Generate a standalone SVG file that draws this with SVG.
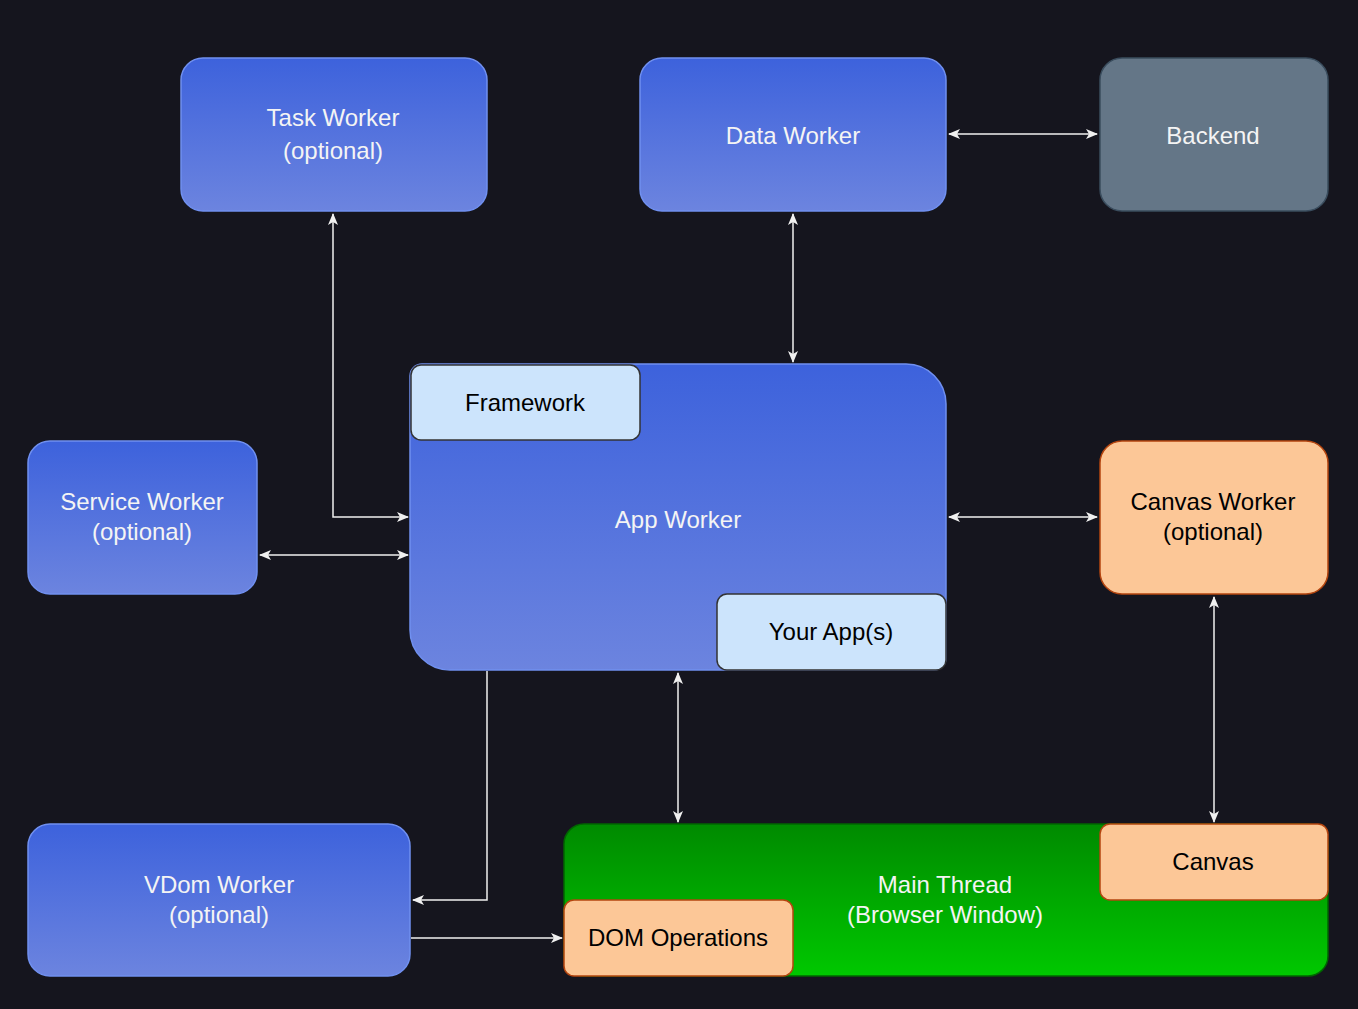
<svg xmlns="http://www.w3.org/2000/svg" width="1358" height="1009" viewBox="0 0 1358 1009">
<defs>
<linearGradient id="bl" x1="0" y1="0" x2="0" y2="1"><stop offset="0" stop-color="#3d62dc"/><stop offset="1" stop-color="#6c84df"/></linearGradient>
<linearGradient id="gr" x1="0" y1="0" x2="0" y2="1"><stop offset="0" stop-color="#008a00"/><stop offset="1" stop-color="#00c800"/></linearGradient>
<marker id="ar" viewBox="0 0 12 10" refX="11" refY="5" markerWidth="12" markerHeight="10" markerUnits="userSpaceOnUse" orient="auto-start-reverse"><path d="M0,0 L12,5 L0,10 L3,5 Z" fill="#f0f0f0"/></marker>
<style>
.b{fill:url(#bl);stroke:#7090f0;stroke-width:1.5}
.o{fill:#fcc797;stroke:#b4450f;stroke-width:1.5}
.l{fill:#cce4fc;stroke:#333;stroke-width:1.5}
.w{font-family:"Liberation Sans",Arial,sans-serif;font-size:24px;fill:#f4f4f4;text-anchor:middle}
.k{font-family:"Liberation Sans",Arial,sans-serif;font-size:24px;fill:#000;text-anchor:middle}
.c{fill:none;stroke:#f0f0f0;stroke-width:1.5}
</style>
</defs>
<rect width="1358" height="1009" fill="#15151e"/>
<g id="connectors">
<path class="c" d="M333,214 V517 H408" marker-start="url(#ar)" marker-end="url(#ar)"/>
<path class="c" d="M793,214 V362" marker-start="url(#ar)" marker-end="url(#ar)"/>
<path class="c" d="M949,134 H1097" marker-start="url(#ar)" marker-end="url(#ar)"/>
<path class="c" d="M260,555 H408" marker-start="url(#ar)" marker-end="url(#ar)"/>
<path class="c" d="M949,517 H1097" marker-start="url(#ar)" marker-end="url(#ar)"/>
<path class="c" d="M1214,597 V822" marker-start="url(#ar)" marker-end="url(#ar)"/>
<path class="c" d="M678,673 V822" marker-start="url(#ar)" marker-end="url(#ar)"/>
<path class="c" d="M487,671 V900 H413" marker-end="url(#ar)"/>
<path class="c" d="M411,938 H562" marker-end="url(#ar)"/>
</g>
<g id="task"><rect class="b" x="181" y="58" width="306" height="153" rx="22"/><text class="w" x="333" y="126">Task Worker</text><text class="w" x="333" y="159">(optional)</text></g>
<g id="data"><rect class="b" x="640" y="58" width="306" height="153" rx="22"/><text class="w" x="793" y="144" font-size="28">Data Worker</text></g>
<g id="backend"><rect x="1100" y="58" width="228" height="153" rx="22" fill="#647687" stroke="#3a4d5e" stroke-width="1.5"/><text class="w" x="1213" y="144" font-size="26">Backend</text></g>
<g id="service"><rect class="b" x="28" y="441" width="229" height="153" rx="22"/><text class="w" x="142" y="510">Service Worker</text><text class="w" x="142" y="540">(optional)</text></g>
<g id="app"><path class="b" d="M422,364 H906 A40,40 0 0 1 946,404 V658 A12,12 0 0 1 934,670 H450 A40,40 0 0 1 410,630 V376 A12,12 0 0 1 422,364 Z"/><text class="w" x="678" y="528" font-size="30">App Worker</text>
<g id="framework"><rect class="l" x="411" y="365" width="229" height="75" rx="10"/><text class="k" x="525" y="411">Framework</text></g>
<g id="yourapps"><rect class="l" x="717" y="594" width="229" height="76" rx="10"/><text class="k" x="831" y="640">Your App(s)</text></g></g>
<g id="canvasworker"><rect class="o" x="1100" y="441" width="228" height="153" rx="22"/><text class="k" x="1213" y="510">Canvas Worker</text><text class="k" x="1213" y="540">(optional)</text></g>
<g id="vdom"><rect class="b" x="28" y="824" width="382" height="152" rx="22"/><text class="w" x="219" y="893">VDom Worker</text><text class="w" x="219" y="923">(optional)</text></g>
<g id="main"><rect x="564" y="824" width="764" height="152" rx="20" fill="url(#gr)" stroke="#006600" stroke-width="1.5"/><text class="w" x="945" y="893">Main Thread</text><text class="w" x="945" y="923">(Browser Window)</text>
<g id="dom"><rect class="o" x="564" y="900" width="229" height="76" rx="10"/><text class="k" x="678" y="946">DOM Operations</text></g>
<g id="canvas"><rect class="o" x="1100" y="824" width="228" height="76" rx="10"/><text class="k" x="1213" y="870">Canvas</text></g></g>
</svg>
